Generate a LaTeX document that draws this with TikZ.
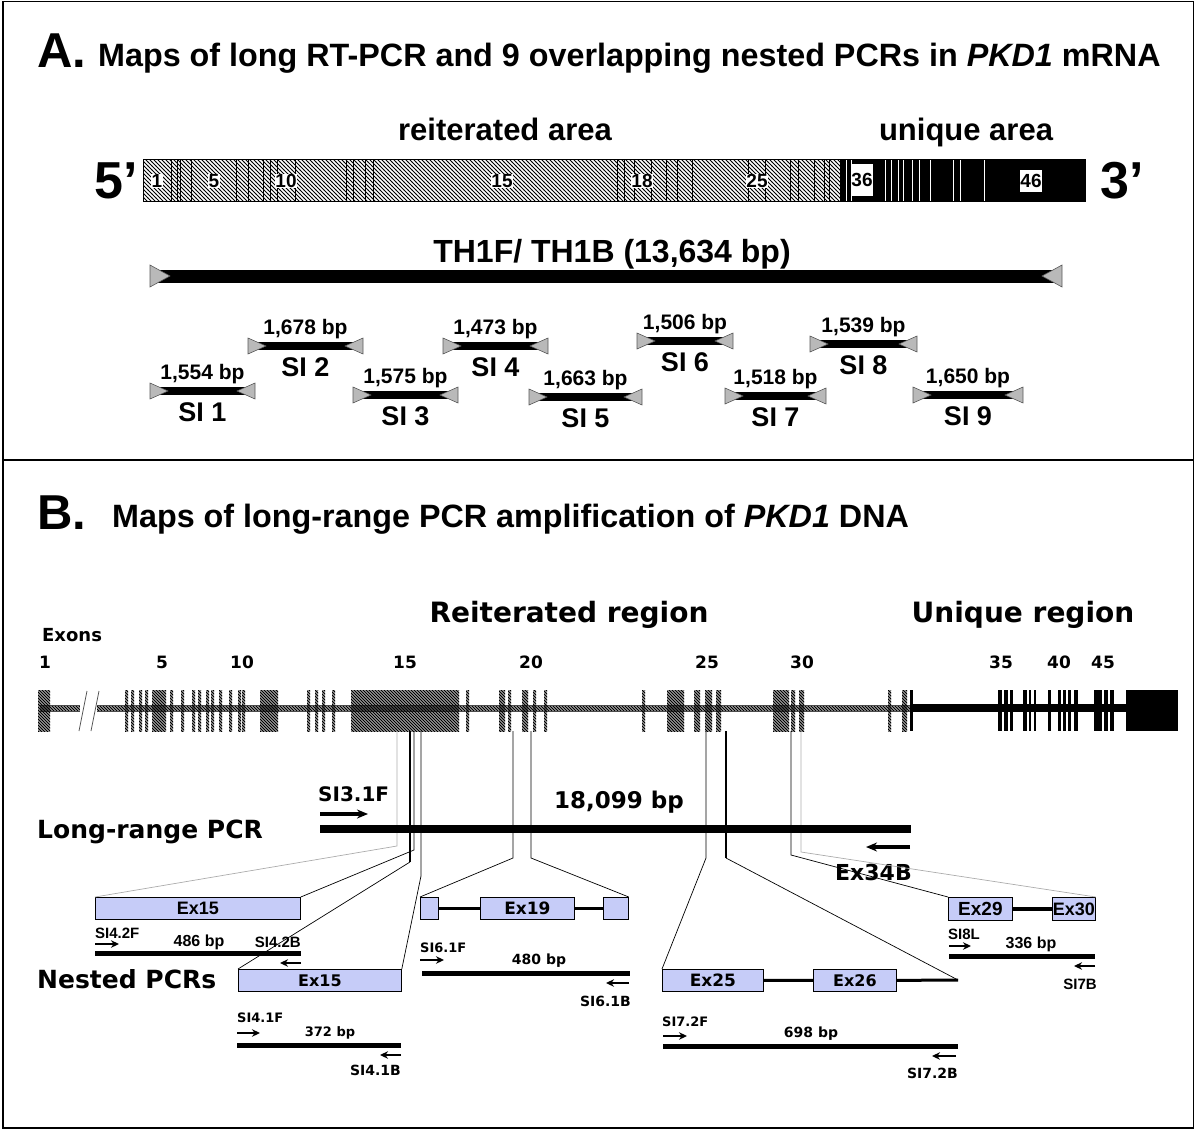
\documentclass[tikz,border=0pt]{standalone}
\usepackage{fontspec}
\setmainfont{Liberation Sans}
\newfontfamily\dvs{DejaVu Sans}
\usetikzlibrary{patterns,arrows.meta}
\definecolor{exbox}{RGB}{198,204,248}
\pgfdeclarepatternformonly{densehatch}{\pgfqpoint{-1pt}{-1pt}}{\pgfqpoint{4pt}{4pt}}{\pgfqpoint{3pt}{3pt}}{%
  \pgfsetlinewidth{1.1pt}%
  \pgfpathmoveto{\pgfqpoint{-0.1pt}{3.1pt}}%
  \pgfpathlineto{\pgfqpoint{3.1pt}{-0.1pt}}%
  \pgfusepath{stroke}}
\pgfdeclarepatternformonly{midhatch}{\pgfqpoint{-1pt}{-1pt}}{\pgfqpoint{5pt}{5pt}}{\pgfqpoint{4pt}{4pt}}{%
  \pgfsetlinewidth{1.0pt}%
  \pgfpathmoveto{\pgfqpoint{-0.1pt}{4.1pt}}%
  \pgfpathlineto{\pgfqpoint{4.1pt}{-0.1pt}}%
  \pgfusepath{stroke}}
\tikzset{
  fs/.style={font=\bfseries\fontsize{#1}{#1}\selectfont},
  dv/.style={font=\dvs\bfseries\fontsize{#1}{#1}\selectfont},
  lab/.style={inner sep=0pt},
  tri/.style={fill=gray!55, draw=gray!70!black, line width=0.6},
  conn/.style={line width=0.7},
  gconn/.style={line width=0.7, draw=gray!65},
  prim/.style={line width=3.2, -{Stealth[length=11,width=9]}},
  sprim/.style={line width=2.9, -{Stealth[length=8,width=7.5]}},
  amp/.style={line width=5},
  exb/.style={draw, fill=exbox, line width=0.8, inner sep=0pt, anchor=north west},
  hatchA/.style={pattern=midhatch},
  hatchB/.style={pattern=densehatch},
  numA/.style={fs=19, fill=white, inner sep=0.6},
}
\newcommand\mybar[7]{%
  \coordinate (#1a) at (#2,#4);
  \coordinate (#1b) at (#3,#4);
  \draw[line width=#5] (#1a) -- (#1b);
  \filldraw[tri] ([yshift=#7]#1a) -- ([xshift=#6]#1a) -- ([yshift=-#7]#1a) -- cycle;
  \filldraw[tri] ([yshift=#7]#1b) -- ([xshift=-#6]#1b) -- ([yshift=-#7]#1b) -- cycle;
}
\newcommand\sibar[6]{% name x1 x2 y bp label
  \mybar{#1}{#2}{#3}{#4}{8}{18}{8}
  \node[fs=21, anchor=base, lab] (#1bp) at ({(#2+#3)/2},{#4-12}) {#5};
  \node[fs=27, anchor=base, lab] (#1nm) at ({(#2+#3)/2},{#4+30}) {#6};
}
\begin{document}
\begin{tikzpicture}[x=1pt,y=-1pt]
\useasboundingbox (0,0) rectangle (1196,1134);
% frame
\draw[line width=1.5] (3,1.5) rectangle (1193.5,1128);
\draw[line width=1.5] (3,460) -- (1193.5,460);

% ---------- Panel A ----------
\node[fs=49, anchor=base west, lab] (Ahead) at (37,68) {A.};
\node[fs=32.3, anchor=base west, lab] (Atitle) at (98,67) {Maps of long RT-PCR and 9 overlapping nested PCRs in \textit{PKD1} mRNA};
\node[fs=31, anchor=base, lab] (reit) at (505,141) {reiterated area};
\node[fs=31, anchor=base, lab] (uniq) at (966,141) {unique area};

\fill[white] (143,160) rectangle (840,202);
\fill[hatchA] (143,160) rectangle (840,202);
\foreach \x in {171.7,177,180,191.7,236.7,248,263,270,277,295,346,353,365,373,617.5,624.6,634,651,666,677,692.5,748.6,765.7,790.7,798,814,824.6,829}
  \draw[line width=0.8] (\x,160) -- (\x,202);
\fill (840,160) rectangle (1085,202);
\foreach \x in {846,851,885,891,898,903,912,919,930,953,960,984}
  \draw[white, line width=1] (\x,160) -- (\x,202);
\draw[line width=1] (143,160) rectangle (1085,202);
\node[numA] (n1) at (157,181) {1};
\node[numA] (n5) at (214,181) {5};
\node[numA] (n10) at (286,181) {10};
\node[numA] (n15) at (502,181) {15};
\node[numA] (n18) at (642,181) {18};
\node[numA] (n25) at (757,181) {25};
\node[fs=19, fill=white, minimum width=20, minimum height=32, inner sep=0] (n36) at (862,180) {36};
\node[fs=19, fill=white, minimum width=22, minimum height=22, inner sep=0] (n46) at (1031,181) {46};
\node[fs=52, anchor=base west, lab] (five) at (94,199) {5’};
\node[fs=52, anchor=base west, lab] (three) at (1100,199) {3’};

\node[fs=32, anchor=base, lab] (thlab) at (612,262) {TH1F/ TH1B (13,634 bp)};
\mybar{th}{150}{1062}{276}{13}{20}{11}

\sibar{si1}{150}{255}{391}{1,554 bp}{SI 1}
\sibar{si2}{248}{363}{346}{1,678 bp}{SI 2}
\sibar{si3}{353}{458}{395}{1,575 bp}{SI 3}
\sibar{si4}{443}{548}{346}{1,473 bp}{SI 4}
\sibar{si5}{529}{642}{397}{1,663 bp}{SI 5}
\sibar{si6}{637}{733}{341}{1,506 bp}{SI 6}
\sibar{si7}{725}{826}{396}{1,518 bp}{SI 7}
\sibar{si8}{810}{917}{344}{1,539 bp}{SI 8}
\sibar{si9}{913}{1023}{395}{1,650 bp}{SI 9}

% ---------- Panel B ----------
\node[fs=49, anchor=base west, lab] (Bhead) at (37,529) {B.};
\node[fs=32.3, anchor=base west, lab] (Btitle) at (112,527) {Maps of long-range PCR amplification of \textit{PKD1} DNA};
\node[dv=28, anchor=base, lab] (reitB) at (569,622) {Reiterated region};
\node[dv=28, anchor=base, lab] (uniqB) at (1023,622) {Unique region};
\node[dv=18, anchor=base west, lab] (exons) at (42,641) {Exons};
\foreach \x/\t in {45/1,162/5,242/10,405/15,531/20,707/25,802/30,1001/35,1059/40,1103/45}
  \node[dv=17, anchor=base, lab] (ex\t) at (\x,668) {\t};

% gene band
\fill[hatchB] (40,705) rectangle (910,711);
\draw[line width=0.6, gray!60!black] (40,705) -- (910,705) (40,711) -- (910,711);
\foreach \a/\b in {38/50,125/128,131/134,139/142,145/148,152/166,170/173,181/184,192/195,198/201,206/209,211/214,219/222,229/232,238/241,242/245,260/278,307/310,315/318,322/325,332/335,351/459,466/469,499/505,508/511,522/528,533/536,544/547,642/645,667/684,694/700,705/712,716/721,773/789,791/795,799/804,888/891,902/907}
  \fill[hatchB] (\a,690) rectangle (\b,731);
\fill[white] (80,700) rectangle (97,716);
\draw[line width=0.7, gray!60!black] (79,731) -- (87,691) (91,731) -- (99,691);
\fill (910,704) rectangle (1130,712);
\foreach \a/\b in {910/913,998/1002,1004/1008,1010/1013,1023/1027,1029/1031,1034/1036,1048/1051,1058/1061,1063/1066,1068/1071,1074/1078,1094/1102,1104/1108,1110/1114}
  \fill (\a,690) rectangle (\b,731);
\fill (1126,690) rectangle (1178,731);

% long-range PCR
\node[dv=25, anchor=base west, lab] (lrlab) at (37,838) {Long-range PCR};
\node[dv=20, anchor=base west, lab] (si31f) at (318,801) {SI3.1F};
\node[dv=23, anchor=base, lab] (lrbp) at (619,808) {18,099 bp};
\node[dv=22, anchor=base west, lab] (ex34b) at (835,880) {Ex34B};
\coordinate (lrA) at (320,829);
\coordinate (lrB) at (911,829);
\coordinate (pF1) at (320,814); \coordinate (pF2) at (368,814);
\coordinate (pB1) at (910,847); \coordinate (pB2) at (866,847);
\draw[prim] (pF1) -- (pF2);
\draw[prim] (pB1) -- (pB2);

\node[dv=25, anchor=base west, lab] (nest) at (37,988) {Nested PCRs};

% Ex15 upper
\node[exb, minimum width=205, minimum height=22, fs=18] (ex15a) at (95,897) {Ex15};
\node[fs=15, anchor=base west, lab] (s42f) at (95,938) {SI4.2F};
\node[fs=16, anchor=base, lab] (b486) at (199,946) {486 bp};
\node[fs=15, anchor=base east, lab] (s42b) at (301,947) {SI4.2B};
\draw[sprim] (95,944) -- (119,944);
\draw[amp] (95,953) -- (301,953);
\draw[sprim] (301,963) -- (280,963);

% Ex15 lower
\node[exb, minimum width=163, minimum height=22, dv=16] (ex15b) at (238,969) {Ex15};
\node[dv=13, anchor=base west, lab] (s41f) at (237,1022) {SI4.1F};
\node[dv=13, anchor=base, lab] (b372) at (330,1036) {372 bp};
\node[dv=14, anchor=base east, lab] (s41b) at (401,1075) {SI4.1B};
\draw[sprim] (237,1033) -- (260,1033);
\draw[amp] (237,1045) -- (401,1045);
\draw[sprim] (401,1055) -- (380,1055);

% Ex19 group
\node[exb, minimum width=18, minimum height=22] (ex18) at (420,897) {};
\node[exb, minimum width=94, minimum height=22, dv=17] (ex19) at (480,897) {Ex19};
\node[exb, minimum width=25, minimum height=22] (ex20) at (603,897) {};
\draw[line width=3] (ex18.east) -- (ex19.west) (ex19.east) -- (ex20.west);
\node[dv=13, anchor=base west, lab] (s61f) at (420,952) {SI6.1F};
\node[dv=14, anchor=base, lab] (b480) at (539,964) {480 bp};
\node[dv=14, anchor=base east, lab] (s61b) at (631,1006) {SI6.1B};
\draw[sprim] (420,960) -- (444,960);
\draw[amp] (422,973) -- (630,973);
\draw[sprim] (629,983) -- (606,983);

% Ex25/26 group
\node[exb, minimum width=101, minimum height=22, dv=17] (ex25) at (662,969) {Ex25};
\node[exb, minimum width=83, minimum height=22, dv=16] (ex26) at (813,969) {Ex26};
\coordinate (ex26end) at (958,980);
\draw[line width=3] (ex25.east) -- (ex26.west) (ex26.east) -- (ex26end);
\node[dv=13, anchor=base west, lab] (s72f) at (662,1026) {SI7.2F};
\node[dv=14, anchor=base, lab] (b698) at (811,1037) {698 bp};
\node[dv=14, anchor=base east, lab] (s72b) at (958,1078) {SI7.2B};
\draw[sprim] (663,1036) -- (687,1036);
\draw[amp] (663,1046) -- (958,1046);
\draw[sprim] (956,1056) -- (932,1056);

% Ex29/30 group
\node[exb, minimum width=64, minimum height=23, fs=19] (ex29) at (948,897) {Ex29};
\node[exb, minimum width=43, minimum height=23, fs=18] (ex30) at (1052,897) {Ex30};
\draw[line width=4] (ex29.east) -- (ex30.west);
\node[fs=15, anchor=base west, lab] (s8l) at (948,939) {SI8L};
\node[fs=16, anchor=base, lab] (b336) at (1031,948) {336 bp};
\node[fs=15, anchor=base east, lab] (s7b) at (1097,989) {SI7B};
\draw[sprim] (949,946) -- (971,946);
\draw[amp] (949,956) -- (1095,956);
\draw[sprim] (1095,966) -- (1074,966);

% connectors gene -> nested boxes
\draw[gconn] (397,731) -- (397,846) -- (ex15a.north west);
\draw[conn] (414,731) -- (414,850) -- (ex15a.north east);
\draw[line width=1.8] (410,731) -- (410,862);
\draw[conn] (410,862) -- (ex15b.north west);
\draw[conn] (421,731) -- (421,876) -- (ex15b.north east);
\draw[conn] (513,731) -- (513,858) -- (ex18.north west);
\draw[conn] (531,731) -- (531,858) -- (ex20.north east);
\draw[conn] (706,731) -- (706,858) -- (ex25.north west);
\draw[line width=1.4] (726,731) -- (726,858);
\draw[conn] (726,858) -- (ex26end);
\draw[conn] (791,731) -- (791,855) -- (ex29.north west);
\draw[gconn] (801,731) -- (801,852) -- (ex30.north east);

\draw[line width=8] (lrA) -- (lrB);
\end{tikzpicture}
\end{document}
